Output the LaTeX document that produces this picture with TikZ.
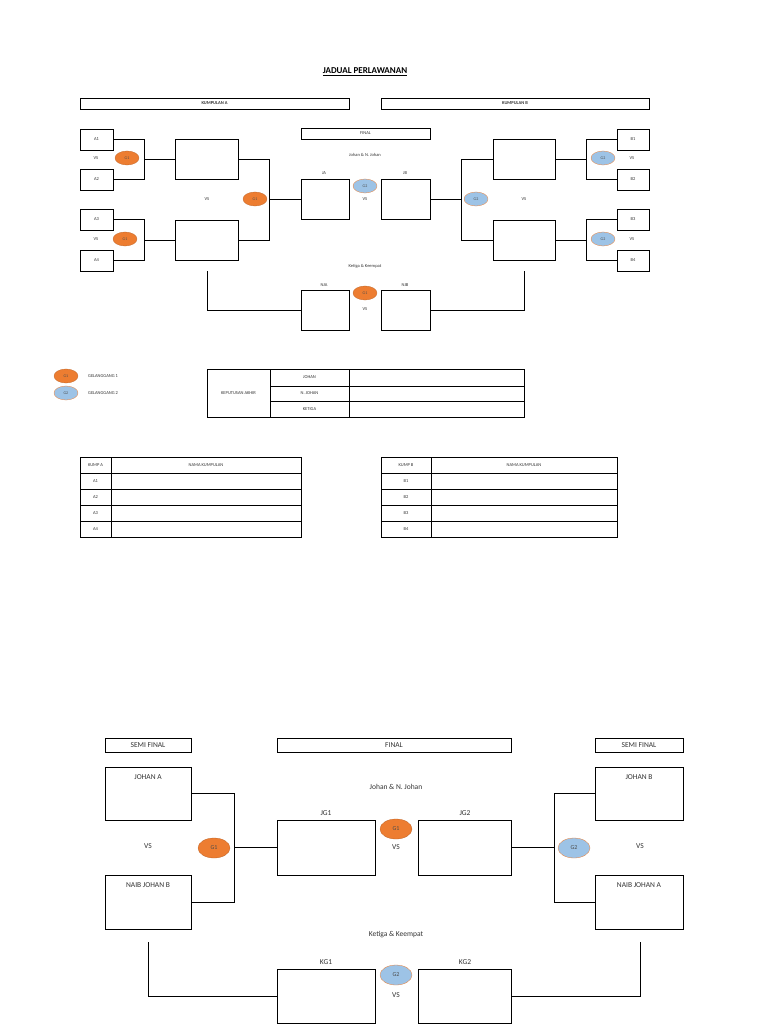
\documentclass[tikz,border=0pt]{standalone}
\usepackage{fontspec}
\setmainfont{Carlito}
\usetikzlibrary{shapes.geometric}
\definecolor{og}{HTML}{ED7D31}
\definecolor{lb}{HTML}{9DC3E6}
\newcommand\mybox[6]{\node[box,minimum width={#4-#2},minimum height={#5-#3}] (#1) at ({(#2+#4)/2},{(#3+#5)/2}) {#6};}
\newcommand\mylab[4]{\node[lab] (#1) at (#2,#3) {#4};}
\begin{document}
\begin{tikzpicture}[x=1pt,y=-1pt,
 box/.style={draw,line width=0.8pt,inner sep=0,outer sep=0,font=\fontsize{4.5}{5}\selectfont,text=black!80},
 lab/.style={inner sep=0,font=\fontsize{4.5}{5}\selectfont,text=black!80},
 ln/.style={line width=0.8pt},
 g1/.style={ellipse,fill=og,draw=og!80!black,line width=0.3pt,minimum width=24pt,minimum height=14pt,inner sep=0,font=\fontsize{4}{5}\selectfont,text=black!70},
 g2/.style={g1,fill=lb,draw=og},
 blab/.style={lab,font=\fontsize{7.5}{9}\selectfont},
 G1/.style={g1,minimum width=32pt,minimum height=20pt,font=\fontsize{6}{7}\selectfont},
 G2/.style={g2,minimum width=32pt,minimum height=20pt,font=\fontsize{6}{7}\selectfont}]
\useasboundingbox (0,0) rectangle (768,1024);
\fill[white] (0,0) rectangle (768,1024);
\node[font=\bfseries\fontsize{9}{10}\selectfont] (title) at (365,72) {\underline{JADUAL PERLAWANAN}};
\mybox{KA}{80}{98}{349}{109}{\textbf{KUMPULAN A}}
\mybox{KB}{381}{98}{649}{109}{\textbf{KUMPULAN B}}
\mybox{A1}{80}{129}{113}{150}{A1}
\mybox{A2}{80}{169}{113}{190}{A2}
\mybox{A3}{80}{209}{113}{230}{A3}
\mybox{A4}{80}{250}{113}{271}{A4}
\mybox{B1}{617}{129}{649}{150}{B1}
\mybox{B2}{617}{169}{649}{190}{B2}
\mybox{B3}{617}{209}{649}{230}{B3}
\mybox{B4}{617}{250}{649}{271}{B4}
\mybox{QA1}{175}{139}{238}{179}{}
\mybox{QA2}{175}{220}{238}{260}{}
\mybox{QB1}{493}{139}{555}{179}{}
\mybox{QB2}{493}{220}{555}{260}{}
\mybox{FIN}{301}{128}{430}{139}{FINAL}
\mybox{JA}{301}{179}{349}{219}{}
\mybox{JB}{381}{179}{430}{219}{}
\mybox{NJA}{301}{290}{349}{330}{}
\mybox{NJB}{381}{290}{430}{330}{}
\mylab{v1}{96}{158}{VS}\mylab{v2}{96}{239}{VS}
\mylab{v3}{632}{158}{VS}\mylab{v4}{632}{239}{VS}
\mylab{v5}{207}{199}{VS}\mylab{v6}{524}{199}{VS}
\mylab{v7}{365}{199}{VS}\mylab{v8}{365}{309}{VS}
\mylab{jn}{365}{155}{Johan \& N. Johan}
\mylab{kk}{365}{266}{Ketiga \& Keempat}
\mylab{lja}{324}{173}{JA}\mylab{ljb}{405}{173}{JB}
\mylab{lnja}{324}{285}{NJA}\mylab{lnjb}{405}{285}{NJB}
\node[g1] (e1) at (127,158) {G1};
\node[g1] (e2) at (125,239) {G1};
\node[g1] (e3) at (255,199) {G1};
\node[g2] (e4) at (365,186) {G2};
\node[g1] (e5) at (365,293) {G1};
\node[g2] (e6) at (603,158) {G2};
\node[g2] (e7) at (603,239) {G2};
\node[g2] (e8) at (476,199) {G2};
\draw[ln] (A1.east) -- ++(31,0) |- (A2.east);
\draw[ln] (A3.east) -- ++(31,0) |- (A4.east);
\draw[ln] (QA1.west) -- ++(-31,0);
\draw[ln] (QA2.west) -- ++(-31,0);
\draw[ln] (QA1.east) -- ++(31,0) |- (QA2.east);
\draw[ln] (JA.west) -- ++(-32,0);
\draw[ln] (B1.west) -- ++(-31,0) |- (B2.west);
\draw[ln] (B3.west) -- ++(-31,0) |- (B4.west);
\draw[ln] (QB1.east) -- ++(31,0);
\draw[ln] (QB2.east) -- ++(31,0);
\draw[ln] (QB1.west) -- ++(-32,0) |- (QB2.west);
\draw[ln] (JB.east) -- ++(31,0);
\coordinate (k1) at (207,271); \coordinate (k2) at (524,271);
\draw[ln] (k1) |- (NJA.west);
\draw[ln] (k2) |- (NJB.east);
% legend
\node[g1] (l1) at (66,376) {G1}; \node[lab,anchor=west] (lt1) at (88,376) {GELANGGANG 1};
\node[g2] (l2) at (66,393) {G2}; \node[lab,anchor=west] (lt2) at (88,393) {GELANGGANG 2};
% keputusan
\mybox{KP}{207}{369}{270}{417}{KEPUTUSAN AKHIR}
\mybox{KP1}{270}{369}{349}{386}{JOHAN}
\mybox{KP2}{270}{386}{349}{401}{N. JOHAN}
\mybox{KP3}{270}{401}{349}{417}{KETIGA}
\mybox{KQ1}{349}{369}{524}{386}{}
\mybox{KQ2}{349}{386}{524}{401}{}
\mybox{KQ3}{349}{401}{524}{417}{}
% tables
\mybox{TA0}{80}{457}{111}{473}{KUMP A}\mybox{TA0n}{111}{457}{301}{473}{NAMA KUMPULAN}
\mybox{TA1}{80}{473}{111}{489}{A1}\mybox{TA1n}{111}{473}{301}{489}{}
\mybox{TA2}{80}{489}{111}{505}{A2}\mybox{TA2n}{111}{489}{301}{505}{}
\mybox{TA3}{80}{505}{111}{521}{A3}\mybox{TA3n}{111}{505}{301}{521}{}
\mybox{TA4}{80}{521}{111}{537}{A4}\mybox{TA4n}{111}{521}{301}{537}{}
\mybox{TB0}{381}{457}{431}{473}{KUMP B}\mybox{TB0n}{431}{457}{617}{473}{NAMA KUMPULAN}
\mybox{TB1}{381}{473}{431}{489}{B1}\mybox{TB1n}{431}{473}{617}{489}{}
\mybox{TB2}{381}{489}{431}{505}{B2}\mybox{TB2n}{431}{489}{617}{505}{}
\mybox{TB3}{381}{505}{431}{521}{B3}\mybox{TB3n}{431}{505}{617}{521}{}
\mybox{TB4}{381}{521}{431}{537}{B4}\mybox{TB4n}{431}{521}{617}{537}{}
% bottom section
\tikzset{box/.append style={font=\fontsize{7.5}{9}\selectfont}}
\mybox{SFL}{105}{738}{191}{752}{SEMI FINAL}
\mybox{FB}{277}{738}{511}{752}{FINAL}
\mybox{SFR}{595}{738}{683}{752}{SEMI FINAL}
\node[box,minimum width=86pt,minimum height=53pt,label={[blab,yshift=-13pt]north:JOHAN A}] (JOA) at (148,793.5) {};
\node[box,minimum width=86pt,minimum height=54pt,label={[blab,yshift=-13pt]north:NAIB JOHAN B}] (NJB2) at (148,902) {};
\node[box,minimum width=88pt,minimum height=53pt,label={[blab,yshift=-13pt]north:JOHAN B}] (JOB) at (639,793.5) {};
\node[box,minimum width=88pt,minimum height=54pt,label={[blab,yshift=-13pt]north:NAIB JOHAN A}] (NJA2) at (639,902) {};
\mybox{JG1}{277}{820}{375}{875}{}
\mybox{JG2}{418}{820}{511}{875}{}
\mybox{KG1}{277}{969}{375}{1023}{}
\mybox{KG2}{418}{969}{511}{1023}{}
\node[blab] (bv1) at (148,846) {VS};
\node[blab] (bv2) at (640,846) {VS};
\node[blab] (bv3) at (396,847) {VS};
\node[blab] (bv4) at (396,995) {VS};
\node[blab] (bjn) at (396,787) {Johan \& N. Johan};
\node[blab] (bkk) at (396,935) {Ketiga \& Keempat};
\node[blab] (ljg1) at (326,813) {JG1};
\node[blab] (ljg2) at (465,813) {JG2};
\node[blab] (lkg1) at (326,962) {KG1};
\node[blab] (lkg2) at (465,962) {KG2};
\node[G1] (be1) at (214,848) {G1};
\node[G1] (be2) at (396,829) {G1};
\node[G2] (be3) at (574,848) {G2};
\node[G2] (be4) at (396,975) {G2};
\draw[ln] (JOA.east) -- ++(43,0) |- (NJB2.east);
\draw[ln] (JG1.west) -- ++(-43,0);
\draw[ln] (JOB.west) -- ++(-41,0) |- (NJA2.west);
\draw[ln] (JG2.east) -- ++(43,0);
\coordinate (bk1) at (148,942); \coordinate (bk2) at (640,942);
\draw[ln] (bk1) |- (KG1.west);
\draw[ln] (bk2) |- (KG2.east);
\end{tikzpicture}
\end{document}
